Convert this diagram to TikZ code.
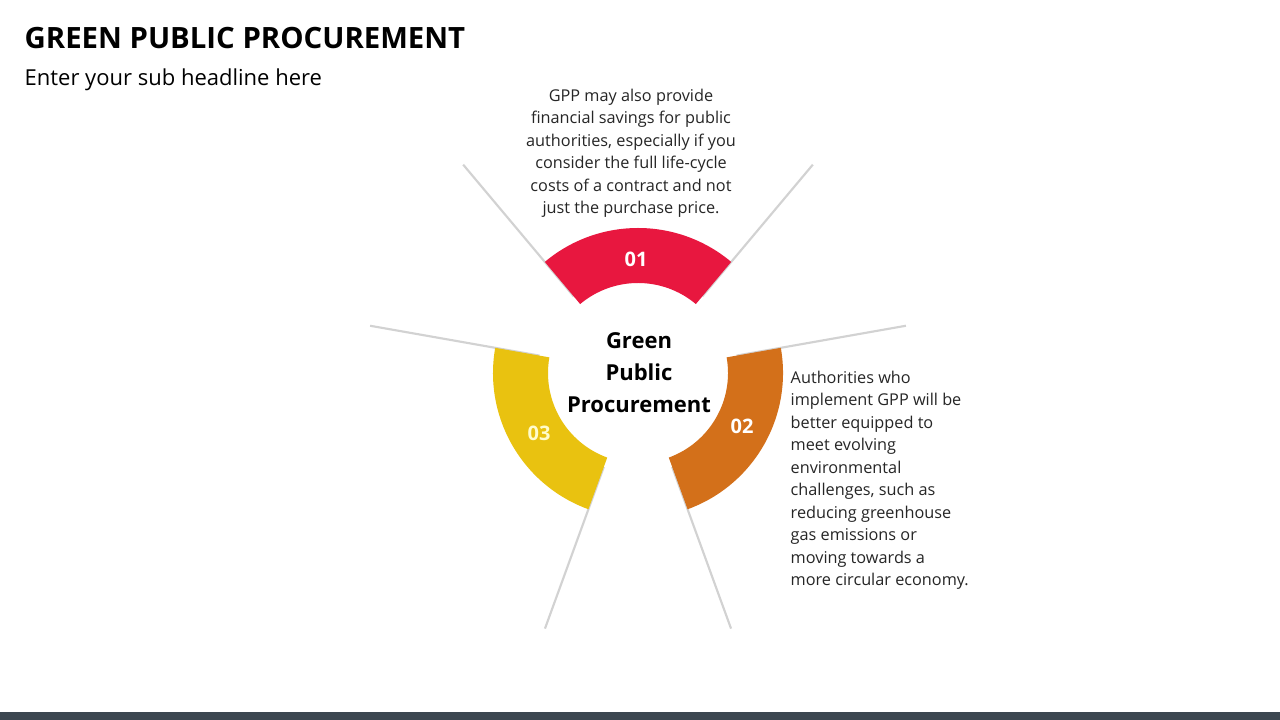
\documentclass[tikz,border=0pt]{standalone}
\usepackage{fontspec}
\setmainfont{Open Sans}
\usetikzlibrary{calc}
\definecolor{cred}{HTML}{E8173F}
\definecolor{corange}{HTML}{D3701A}
\definecolor{cyellow}{HTML}{E9C210}
\definecolor{cbar}{HTML}{3C4650}
\begin{document}
\begin{tikzpicture}[x=0.75pt,y=0.75pt,
  ray/.style={draw=gray!35,line width=1.6pt},
  body/.style={font=\fontsize{12.2}{16.9}\selectfont,text=black!85},
  num/.style={font=\bfseries\fontsize{15}{18}\selectfont,text=white}]
\useasboundingbox (0,0) rectangle (1280,720);
\fill[white] (0,0) rectangle (1280,720);
\fill[cbar] (0,0) rectangle (1280,8);
\coordinate (c) at (638,347);
% rays
\foreach \a in {50,130,10,170,250,-70}{
  \draw[ray] ($(c)+(\a:100)$) -- ($(c)+(\a:272)$);
}
% arcs
\fill[cred] (c) ++(50:108.75pt) arc (50:130:108.75pt) -- ($(c)+(130:67.5pt)$) arc (130:50:67.5pt) -- cycle;
\fill[corange] (c) ++(-70:108.75pt) arc (-70:10:108.75pt) -- ($(c)+(10:67.5pt)$) arc (10:-70:67.5pt) -- cycle;
\fill[cyellow] (c) ++(170:108.75pt) arc (170:250:108.75pt) -- ($(c)+(250:67.5pt)$) arc (250:170:67.5pt) -- cycle;
\node[num] (n1) at (636,461) {01};
\node[num] (n2) at (742,294) {02};
\node[num,text=white!80!yellow] (n3) at (539,287) {03};
\node[align=center,font=\bfseries\fontsize{16.5}{24}\selectfont] (ctr) at (639,347) {Green\\Public\\Procurement};
% titles
\node[anchor=west,font=\bfseries\fontsize{22}{26}\selectfont] (title) at (20,682) {GREEN PUBLIC PROCUREMENT};
\node[anchor=west,font=\fontsize{16.5}{20}\selectfont] (sub) at (20,640) {Enter your sub headline here};
\node[body,align=center,anchor=north] (t1) at (631,636) {GPP may also provide\\financial savings for public\\authorities, especially if you\\consider the full life-cycle\\costs of a contract and not\\just the purchase price.};
\node[body,align=left,anchor=north west] (t2) at (786,354) {Authorities who\\implement GPP will be\\better equipped to\\meet evolving\\environmental\\challenges, such as\\reducing greenhouse\\gas emissions or\\moving towards a\\more circular economy.};
\end{tikzpicture}
\end{document}
